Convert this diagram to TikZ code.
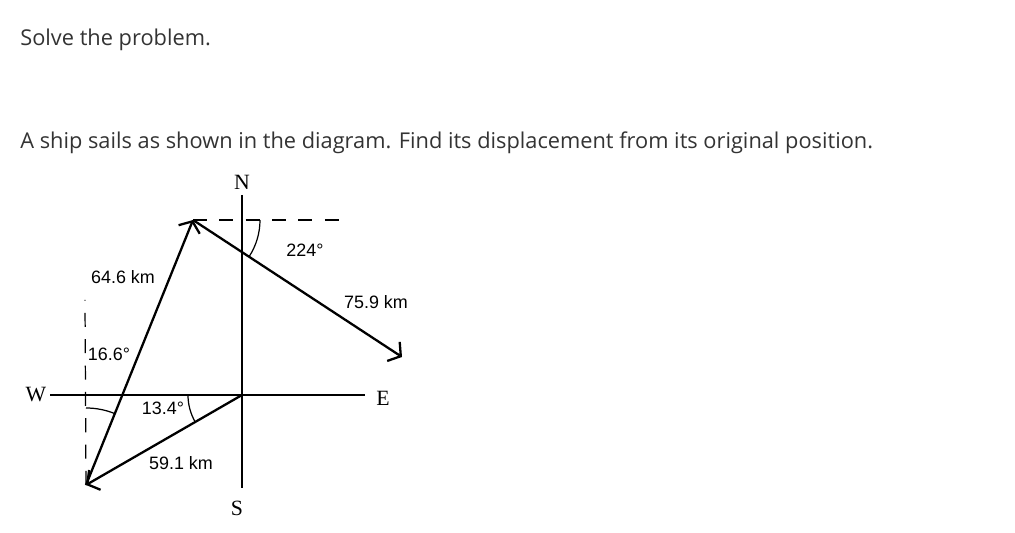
\documentclass[tikz,border=0pt]{standalone}
\usepackage{fontspec}
\setmainfont{Open Sans}
\newfontfamily\labelfont{Liberation Sans}
\newfontfamily\compassfont{Liberation Serif}
\usetikzlibrary{calc, arrows.meta}
\definecolor{textgray}{HTML}{333333}
\tikzset{
    vec/.style={line width=1.3pt,-{Straight Barb[length=5pt,width=13pt,line width=1.3pt]}},
    axis/.style={line width=0.7pt},
    guide/.style={line width=0.7pt,dash pattern=on 8pt off 7pt},
    anglearc/.style={line width=0.7pt},
    lbl/.style={font=\labelfont\fontsize{10.2}{12}\selectfont,inner sep=0pt},
    compass/.style={font=\compassfont\fontsize{12.4}{14}\selectfont,inner sep=1pt},
    question/.style={font=\fontsize{12.4}{14}\selectfont,text=textgray,anchor=west,inner sep=0pt},
}

\begin{document}
\begin{tikzpicture}[x=0.02cm,y=-0.02cm]
            \useasboundingbox (0,0) rectangle (1015,533);
            \node[question] (solve) at (20,40) {Solve the problem.};
            \node[question] (task) at (20,143) {A ship sails as shown in the diagram. Find its displacement from its original position.};
            % compass
            \node[compass] (N) at (242,182) {N};
            \node[compass] (S) at (237,508) {S};
            \node[compass] (W) at (36,395) {W};
            \node[compass] (E) at (383,398) {E};
            \coordinate (ntop) at (242,195);
            \coordinate (sbot) at (242,488);
            \coordinate (wend) at (50,395);
            \coordinate (eend) at (365,395);
            \draw[axis] (ntop)--(sbot);
            \draw[axis] (wend)--(eend);
            % route of the ship
            \coordinate (O) at (242,395);
            \coordinate (A) at (86,485);
            \coordinate (B) at (193,220);
            \coordinate (C) at (402,357);
            \coordinate (bref) at (347,220);
            \coordinate (aref) at (85,300);
            \draw[guide] (B)--(bref);
            \draw[guide] (A)--(aref);
            \draw[vec] (O)--(A);
            \draw[vec] (A)--(B);
            \draw[vec] (B)--(C);
            % angles (y axis points down)
            \draw[anglearc] ($(B)+(67,0)$) arc (0:33.2:67);
            \draw[anglearc] ($(A)+(0,-77)$) arc (-90:-68:77);
            \draw[anglearc] ($(O)+(-54,0)$) arc (180:150:54);
            \node[lbl] (dab) at (123,277) {64.6 km};
            \node[lbl] (aab) at (109,354) {16.6°};
            \node[lbl] (aoa) at (163,408) {13.4°};
            \node[lbl] (doa) at (181,463) {59.1 km};
            \node[lbl] (abc) at (305,250) {224°};
            \node[lbl] (dbc) at (376,302) {75.9 km};
        \end{tikzpicture}
\end{document}
